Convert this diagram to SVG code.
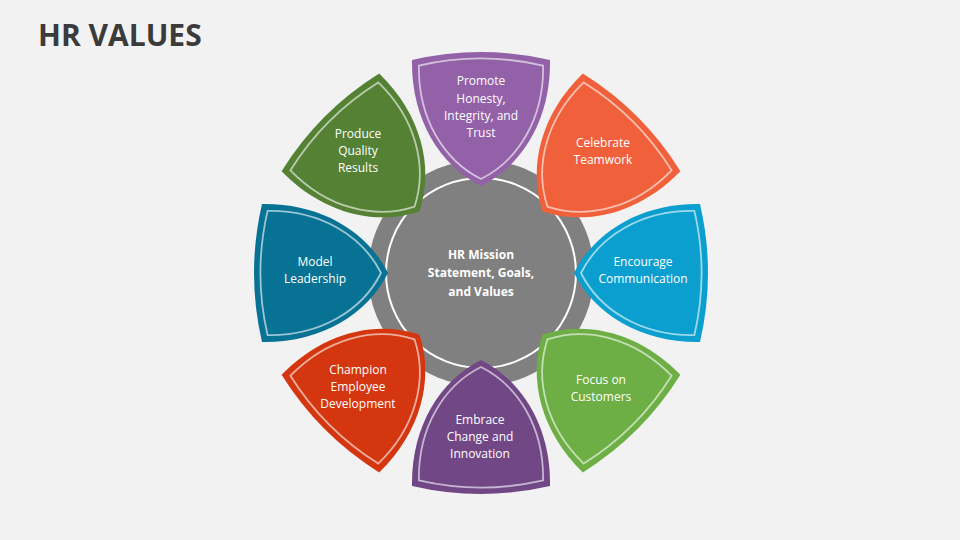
<svg xmlns="http://www.w3.org/2000/svg" width="960" height="540" viewBox="0 0 960 540">
<defs>
<path id="petal" d="M0,-87 C-42,-108 -70,-155 -69,-213 Q0,-229 69,-213 C70,-155 42,-108 0,-87 Z"/>
</defs>
<style>
.t{font-family:"Open Sans","Liberation Sans",sans-serif;font-size:12px;fill:#fff;text-anchor:middle}
.in{fill:none;stroke:#fff;stroke-opacity:0.6;stroke-width:2}
</style>
<rect width="960" height="540" fill="#f2f2f2"/>
<text x="38" y="46" font-family="'Open Sans','Liberation Sans',sans-serif" font-weight="bold" font-size="30" fill="#3b3b3b">HR VALUES</text>
<g id="hub">
<circle cx="481" cy="273" r="113" fill="#808080"/>
<circle cx="481" cy="273" r="95" fill="none" stroke="#fff" stroke-width="2"/>
<text class="t" font-weight="bold" font-size="13.5" x="481"><tspan x="481" y="259">HR Mission</tspan><tspan x="481" y="277">Statement, Goals,</tspan><tspan x="481" y="296">and Values</tspan></text>
</g>
<g id="p1" transform="translate(481,273)"><use href="#petal" fill="#9261a8"/><use href="#petal" class="in" transform="translate(0,-157) scale(0.9) translate(0,157)"/></g>
<g id="p2" transform="translate(481,273) rotate(45)"><use href="#petal" fill="#f0603a"/><use href="#petal" class="in" transform="translate(0,-157) scale(0.9) translate(0,157)"/></g>
<g id="p3" transform="translate(481,273) rotate(90) translate(0,-6)"><use href="#petal" fill="#0a9fcf"/><use href="#petal" class="in" transform="translate(0,-157) scale(0.9) translate(0,157)"/></g>
<g id="p4" transform="translate(481,273) rotate(135)"><use href="#petal" fill="#6dae45"/><use href="#petal" class="in" transform="translate(0,-157) scale(0.9) translate(0,157)"/></g>
<g id="p5" transform="translate(481,273) rotate(180)"><use href="#petal" fill="#714785"/><use href="#petal" class="in" transform="translate(0,-157) scale(0.9) translate(0,157)"/></g>
<g id="p6" transform="translate(481,273) rotate(225)"><use href="#petal" fill="#d43610"/><use href="#petal" class="in" transform="translate(0,-157) scale(0.9) translate(0,157)"/></g>
<g id="p7" transform="translate(481,273) rotate(270) translate(0,-6)"><use href="#petal" fill="#087294"/><use href="#petal" class="in" transform="translate(0,-157) scale(0.9) translate(0,157)"/></g>
<g id="p8" transform="translate(481,273) rotate(315)"><use href="#petal" fill="#548133"/><use href="#petal" class="in" transform="translate(0,-157) scale(0.9) translate(0,157)"/></g>
<g id="labels">
<text class="t"><tspan x="481" y="85">Promote</tspan><tspan x="481" y="103">Honesty,</tspan><tspan x="481" y="120">Integrity, and</tspan><tspan x="481" y="137">Trust</tspan></text>
<text class="t"><tspan x="603" y="147">Celebrate</tspan><tspan x="603" y="164">Teamwork</tspan></text>
<text class="t"><tspan x="643" y="266">Encourage</tspan><tspan x="643" y="283">Communication</tspan></text>
<text class="t"><tspan x="601" y="384">Focus on</tspan><tspan x="601" y="401">Customers</tspan></text>
<text class="t"><tspan x="480" y="424">Embrace</tspan><tspan x="480" y="441">Change and</tspan><tspan x="480" y="458">Innovation</tspan></text>
<text class="t"><tspan x="358" y="374">Champion</tspan><tspan x="358" y="391">Employee</tspan><tspan x="358" y="408">Development</tspan></text>
<text class="t"><tspan x="315" y="266">Model</tspan><tspan x="315" y="283">Leadership</tspan></text>
<text class="t"><tspan x="358" y="138">Produce</tspan><tspan x="358" y="155">Quality</tspan><tspan x="358" y="172">Results</tspan></text>
</g>
</svg>
